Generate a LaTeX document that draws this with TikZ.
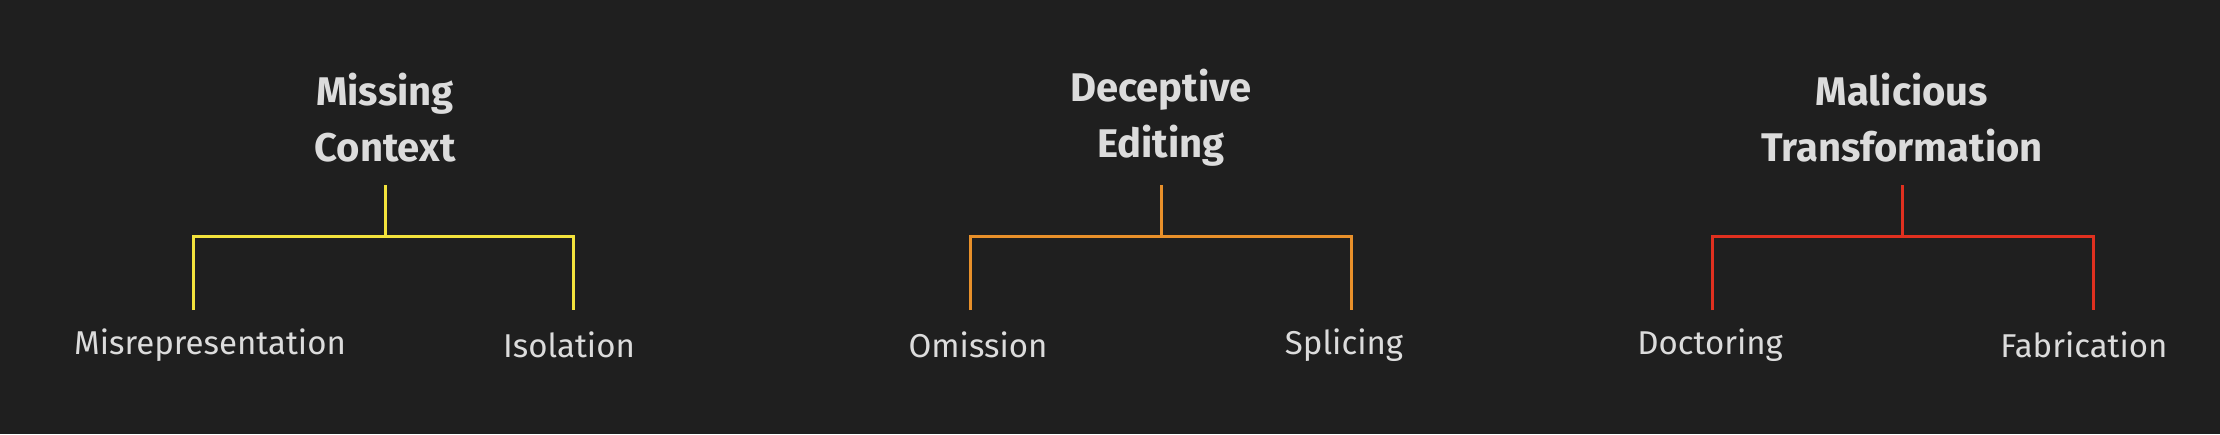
\documentclass[tikz,border=0pt]{standalone}
\usepackage{fontspec}
\setmainfont{Fira Sans}
\definecolor{bg}{HTML}{1F1F1F}
\definecolor{txt}{HTML}{DCDCDC}
\definecolor{cyel}{HTML}{F2E23C}
\definecolor{cora}{HTML}{E8902A}
\definecolor{cred}{HTML}{E0301F}
\tikzset{
  head/.style={text=txt, font=\fontsize{40}{56}\selectfont\bfseries, align=center},
  leaf/.style={text=txt, font=\fontsize{33}{40}\selectfont\light},
  brace/.style={line width=3pt}
}
\newcommand{\light}{\addfontfeatures{}}
\begin{document}
\begin{tikzpicture}[x=1pt,y=-1pt]
    \fill[bg] (0,0) rectangle (2220,434);
    % heads
    \node[head] (H1) at (385,118) {Missing\\Context};
    \node[head] (H2) at (1161,118) {Deceptive\\Editing};
    \node[head] (H3) at (1902,118) {Malicious\\Transformation};
    % leaves
    \node[leaf] (L1) at (210,345) {Misrepresentation};
    \node[leaf] (L2) at (569,345) {Isolation};
    \node[leaf] (L3) at (978,345) {Omission};
    \node[leaf] (L4) at (1344,345) {Splicing};
    \node[leaf] (L5) at (1710,345) {Doctoring};
    \node[leaf] (L6) at (2084,345) {Fabrication};
    % brackets
    \draw[brace, cyel] (385,185) -- (385,236) (193,310) -- (193,236) -- (573,236) -- (573,310);
    \draw[brace, cora] (1161,185) -- (1161,236) (970,310) -- (970,236) -- (1351,236) -- (1351,310);
    \draw[brace, cred] (1902,185) -- (1902,236) (1712,310) -- (1712,236) -- (2093,236) -- (2093,310);
\end{tikzpicture}
\end{document}
